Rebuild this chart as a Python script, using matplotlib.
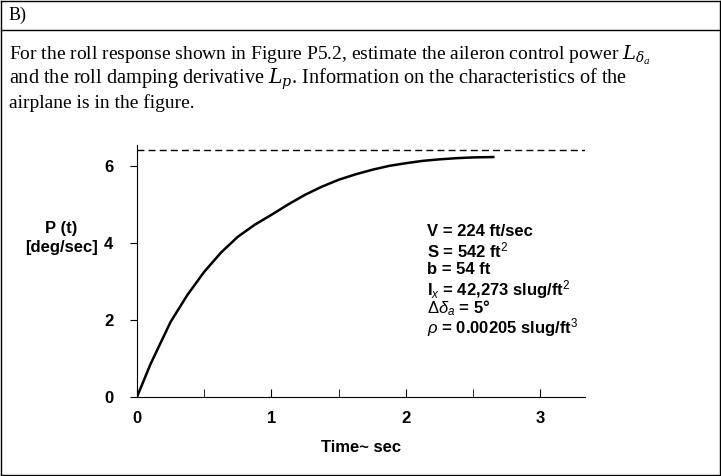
import matplotlib.pyplot as plt
from matplotlib.lines import Line2D

# roll rate
t = [0, 0.1, 0.25, 0.375, 0.5, 0.625, 0.75, 0.875, 1.0, 1.125, 1.25, 1.375,
     1.5, 1.625, 1.75, 1.875, 2.0, 2.125, 2.25, 2.375, 2.5, 2.65]
p = [0, 0.85, 1.95, 2.65, 3.25, 3.75, 4.16, 4.47, 4.73, 5.0, 5.25, 5.46,
     5.64, 5.78, 5.9, 6.0, 6.07, 6.13, 6.17, 6.2, 6.22, 6.23]
p_ss = 6.42
x_ticks = [0, 1, 2, 3]
x_minor = [0.5, 1.5, 2.5]
y_ticks = [0, 2, 4, 6]
info = ["V = 224 ft/sec", "S = 542 ft$^2$", "b = 54 ft",
        "I$_x$ = 42,273 slug/ft$^2$", "$\\Delta\\delta_a$ = 5°",
        "$\\rho$ = 0.00205 slug/ft$^3$"]

fig = plt.figure(figsize=(7.21, 4.76), dpi=100)
plt.rcParams['mathtext.fontset'] = 'custom'
plt.rcParams['mathtext.rm'] = 'Liberation Sans'
plt.rcParams['mathtext.it'] = 'Liberation Sans:italic'
plt.rcParams['mathtext.bf'] = 'Liberation Sans:bold'

# box and header line
for y in [0.002, 0.937, 0.998]:
    fig.add_artist(Line2D([0.001, 0.999], [y, y], color='black', lw=1))
for x in [0.001, 0.999]:
    fig.add_artist(Line2D([x, x], [0.002, 0.998], color='black', lw=1))
serif = 'Liberation Serif'
fig.text(0.012, 0.967, "B)", family=serif, fontsize=13, va='center')
lines = ["For the roll response shown in Figure P5.2, estimate the aileron control power $L_{\\delta_a}$",
         "and the roll damping derivative $L_p$. Information on the characteristics of the",
         "airplane is in the figure."]
for i, s in enumerate(lines):
    txt = fig.text(0.012, 0.884 - i * 0.05, s, family=serif, fontsize=14, va='center',
                   math_fontfamily='dejavuserif')
    if i == 1:
        txt.set_fontstretch('expanded')
        txt.set_fontsize(14.6)

ax = fig.add_axes([0.19, 0.166, 0.621, 0.53])
ax.plot(t, p, color='black', lw=1.8)
ax.axhline(p_ss, color='black', lw=1, ls=(0, (5, 3)))
ax.set_xlim(0, 3.33)
ax.set_ylim(0, 6.55)
ax.spines['top'].set_visible(False)
ax.spines['right'].set_visible(False)
ax.set_xticks(x_ticks)
ax.set_xticks(x_minor, minor=True)
ax.set_yticks(y_ticks)
ax.tick_params(axis='x', which='both', direction='in', length=6, pad=10, labelsize=12)
ax.tick_params(axis='y', direction='out', length=5, labelsize=12, pad=12)
for lab in ax.get_xticklabels() + ax.get_yticklabels():
    lab.set_family('Liberation Sans')
    lab.set_fontweight('bold')
ax.set_xlabel("Time~ sec", family='Liberation Sans', fontsize=12, fontweight='bold', labelpad=10)
fig.text(0.085, 0.5, "P (t)\n[deg/sec]", family='Liberation Sans', fontsize=12,
         fontweight='bold', ha='center', va='center', linespacing=1.3)
for i, s in enumerate(info):
    ax.text(2.16, 4.3 - i * 0.5, s, family='Liberation Sans', fontsize=12,
            fontweight='bold', va='center')

fig.savefig('out.png', dpi=100)
